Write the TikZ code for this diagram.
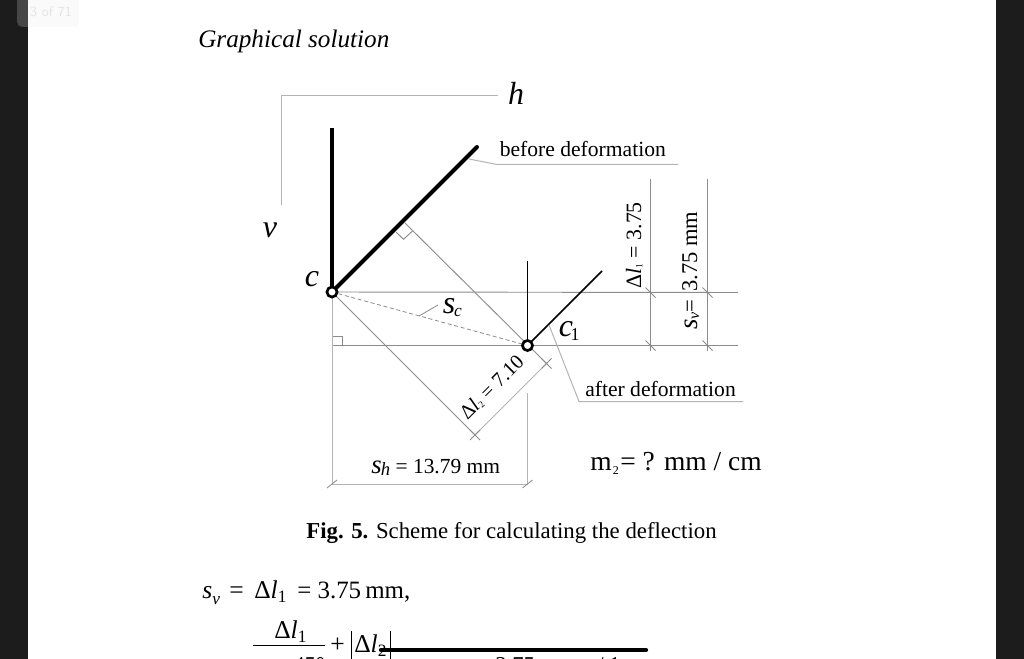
\documentclass[tikz,border=0pt]{standalone}
\usepackage{fontspec}
\setmainfont{Liberation Serif}
\usetikzlibrary{calc}
\definecolor{sidebar}{HTML}{1C1C1C}
\definecolor{thin}{HTML}{8C8C8C}
\definecolor{pale}{HTML}{B4B4B4}
\tikzset{
  x=0.75pt,y=-0.75pt,
  guide/.style={draw=pale,line width=0.75pt},
  dim/.style={draw=thin,line width=0.7pt},
  tick/.style={draw=thin,line width=0.6pt},
  bar/.style={draw=black,line width=3pt},
  barthin/.style={draw=black,line width=1.2pt},
  pin/.style={circle,draw=black,line width=2pt,fill=white,inner sep=0pt,minimum size=7.6pt},
  lbl/.style={inner sep=0pt,text=black},
}
\newcommand{\pxfont}[1]{\fontsize{#1}{#1}\selectfont}
\begin{document}
\begin{tikzpicture}
\useasboundingbox (0,0) rectangle (1024,659);
\clip (0,0) rectangle (1024,659);
\fill[white] (0,0) rectangle (1024,659);
\fill[sidebar] (0,0) rectangle (28,659);
\fill[sidebar] (996,0) rectangle (1024,659);
% page badge
\begin{scope}
\clip[rounded corners=4pt] (17,-8) rectangle (79,27);
\fill[black!72] (17,-8) rectangle (28,27);
\fill[black!2] (28,-8) rectangle (79,27);
\end{scope}
\node[lbl,text=black!11,font=\sffamily\pxfont{10.5}] (badge) at (51,12) {3 of 71};

\node[lbl,font=\itshape\pxfont{18.9},anchor=base west] (title) at (198,47.5) {Graphical solution};

% coordinates
\coordinate (C) at (332,292);
\coordinate (C1) at (527.5,345.5);
\coordinate (top) at (332,128);
\coordinate (end) at (477,147);
\coordinate (top1) at (527.5,261);
\coordinate (end1) at (602,271);
\coordinate (hv) at (281,96);
\coordinate (hEnd) at (498,96);
\coordinate (vEnd) at (281,205);

% axes
\draw[guide] (hEnd) -- (hv) -- (vEnd);
\node[lbl,font=\itshape\pxfont{24}] (h) at (516,93) {h};
\node[lbl,font=\itshape\pxfont{24}] (v) at (270,230) {v};

% horizontals
\coordinate (hr1) at (738,292.5);
\coordinate (hr2) at (738,345.5);
\draw[dim] (C) -- (hr1);
\draw[dim] (332,345.5) -- (hr2);

% thin geometry
\coordinate (foot) at (475,435);
\coordinate (foot2) at (546.5,363.5);
\coordinate (perp) at (405,223);
\draw[dim] (C) -- (foot);
\draw[dim] (perp) -- (foot2);
\draw[guide] (foot) -- (foot2);
\draw[tick] (470,430) -- (480,440) (470,440) -- (480,430);
\draw[tick] (541.5,358.5) -- (551.5,368.5) (541.5,368.5) -- (551.5,358.5);
\draw[dim] (396,232) -- (403.5,239.3) -- (412.5,231);
\draw[dim] (332,336.5) -- (342,336.5) -- (342,345.5);

% Sc
\draw[densely dashed,draw=thin,line width=0.6pt] (C) -- (C1);
\draw[draw=thin,line width=0.6pt] (419,316) -- (438,305);
\node[lbl,font=\itshape\pxfont{24}] (sc) at (449,306) {s};
\node[lbl,font=\itshape\pxfont{13}] (scc) at (458,313) {c};

% horizontal dimension
\coordinate (shl) at (332,484);
\coordinate (shr) at (527.5,484);
\draw[guide] (C) -- (shl);
\draw[guide] (527.5,393) -- (shr);
\draw[guide] (shl) -- (shr);
\draw[tick] (327,488) -- (337,480);
\draw[tick] (522.5,488) -- (532.5,480);
\node[lbl,font=\pxfont{16.1},anchor=base west] (sh) at (371,473) {\textit{\pxfont{20}s\kern-0.6pt\raisebox{-1.5pt}{\pxfont{14}h}} = 13.79 mm};

% vertical dimensions
\coordinate (d1t) at (650.5,179);
\coordinate (d1b) at (650.5,351);
\coordinate (d2t) at (707.5,179);
\coordinate (d2b) at (707.5,351);
\draw[dim] (d1t) -- (d1b);
\draw[dim] (d2t) -- (d2b);
\foreach \xx in {650.5,707.5} \foreach \yy in {292.5,345.5}
  \draw[tick] (\xx-5,\yy-5) -- (\xx+5,\yy+5);
\node[lbl,rotate=90,font=\pxfont{16.4},anchor=base west] (dl1) at (641,289) {Δ\textit{l}\kern0.2pt\raisebox{-1pt}{\pxfont{7}1} = 3.75};
\node[lbl,rotate=90,font=\pxfont{16.9},anchor=base west] (sv) at (697,330) {\textit{\pxfont{20}s\kern-0.4pt\raisebox{-1.5pt}{\pxfont{12}v}}= \kern2pt3.75 mm};
\node[lbl,rotate=45,font=\pxfont{15.3},anchor=base west] (dl2) at (467.5,421) {Δ\textit{l}\kern0.2pt\raisebox{-1pt}{\pxfont{7}2} = 7.10};

% members
\draw[bar] (top) -- (C);
\draw[bar,line cap=round] (end) -- (C);
\draw[barthin] (top1) -- (C1);
\draw[barthin] (end1) -- (C1);
\node[pin] (pinC) at (C) {};
\node[pin] (pinC1) at (C1) {};

\node[lbl,font=\itshape\pxfont{24}] (c) at (312,279) {c};
\node[lbl,font=\itshape\pxfont{24}] (c1) at (566,329) {c};
\node[lbl,font=\pxfont{13.5}] (c1s) at (575,335) {1};

% leaders
\coordinate (bd1) at (469,159);
\coordinate (bd2) at (497,164.5);
\coordinate (bd3) at (678,164.5);
\draw[guide] (bd1) -- (bd2) -- (bd3);
\node[lbl,font=\pxfont{16.2},anchor=base west] (bd) at (499.5,157) {before deformation};
\coordinate (ad1) at (549,325);
\coordinate (ad2) at (579,401.5);
\coordinate (ad3) at (743,401.5);
\draw[guide] (ad1) -- (ad2) -- (ad3);
\node[lbl,font=\pxfont{16.2},anchor=base west] (ad) at (585,396) {after deformation};

\node[lbl,font=\pxfont{20.6},anchor=base west] (m2) at (590,470) {m\kern1pt\raisebox{-3pt}{\pxfont{9}2}\kern1pt= ? mm / cm};

\node[lbl,font=\pxfont{17.1},anchor=base] (cap) at (511.5,538) {\textbf{Fig. 5.} Scheme for calculating the deflection};

% formula below
\node[lbl,font=\pxfont{19.2},anchor=base west] (f1) at (202,598) {\textit{s}};
\node[lbl,font=\itshape\pxfont{13},anchor=base west] (f1b) at (212,604) {v};
\node[lbl,font=\pxfont{19.2},anchor=base west] (f1c) at (229,598) {=};
\node[lbl,font=\pxfont{19.2},anchor=base west] (f1d) at (254,598) {Δ\textit{l}\raisebox{-3.5pt}{\pxfont{13}1}};
\node[lbl,font=\pxfont{18.7},anchor=base west] (f1e) at (297,598) {= 3.75\,mm,};
\node[lbl,font=\pxfont{19.2},anchor=base west] (f2) at (274,638) {Δ\textit{l}\raisebox{-3.5pt}{\pxfont{13}1}};
\draw[draw=black,line width=0.6pt] (253,645.5) -- (325,645.5);
\node[lbl,font=\pxfont{17},anchor=base west] (f3) at (293,672) {45°};
\node[lbl,font=\pxfont{19.2},anchor=base west] (f4) at (330,652) {+};
\draw[draw=black,line width=0.7pt] (351,631) -- (351,659) (390,631) -- (390,659);
\node[lbl,font=\pxfont{19.2},anchor=base west] (f5) at (354,652) {Δ\textit{l}\raisebox{-3.5pt}{\pxfont{13}2}};
\node[lbl,font=\pxfont{17},anchor=base west] (f6) at (495,672) {3.75};
\node[lbl,font=\pxfont{17},anchor=base west] (f7) at (597,672) {/ 1};
\coordinate (ov1) at (381,650);
\coordinate (ov2) at (646,650);
\draw[bar,line cap=round,line width=3.2pt] (ov1) -- (ov2);
\end{tikzpicture}
\end{document}
